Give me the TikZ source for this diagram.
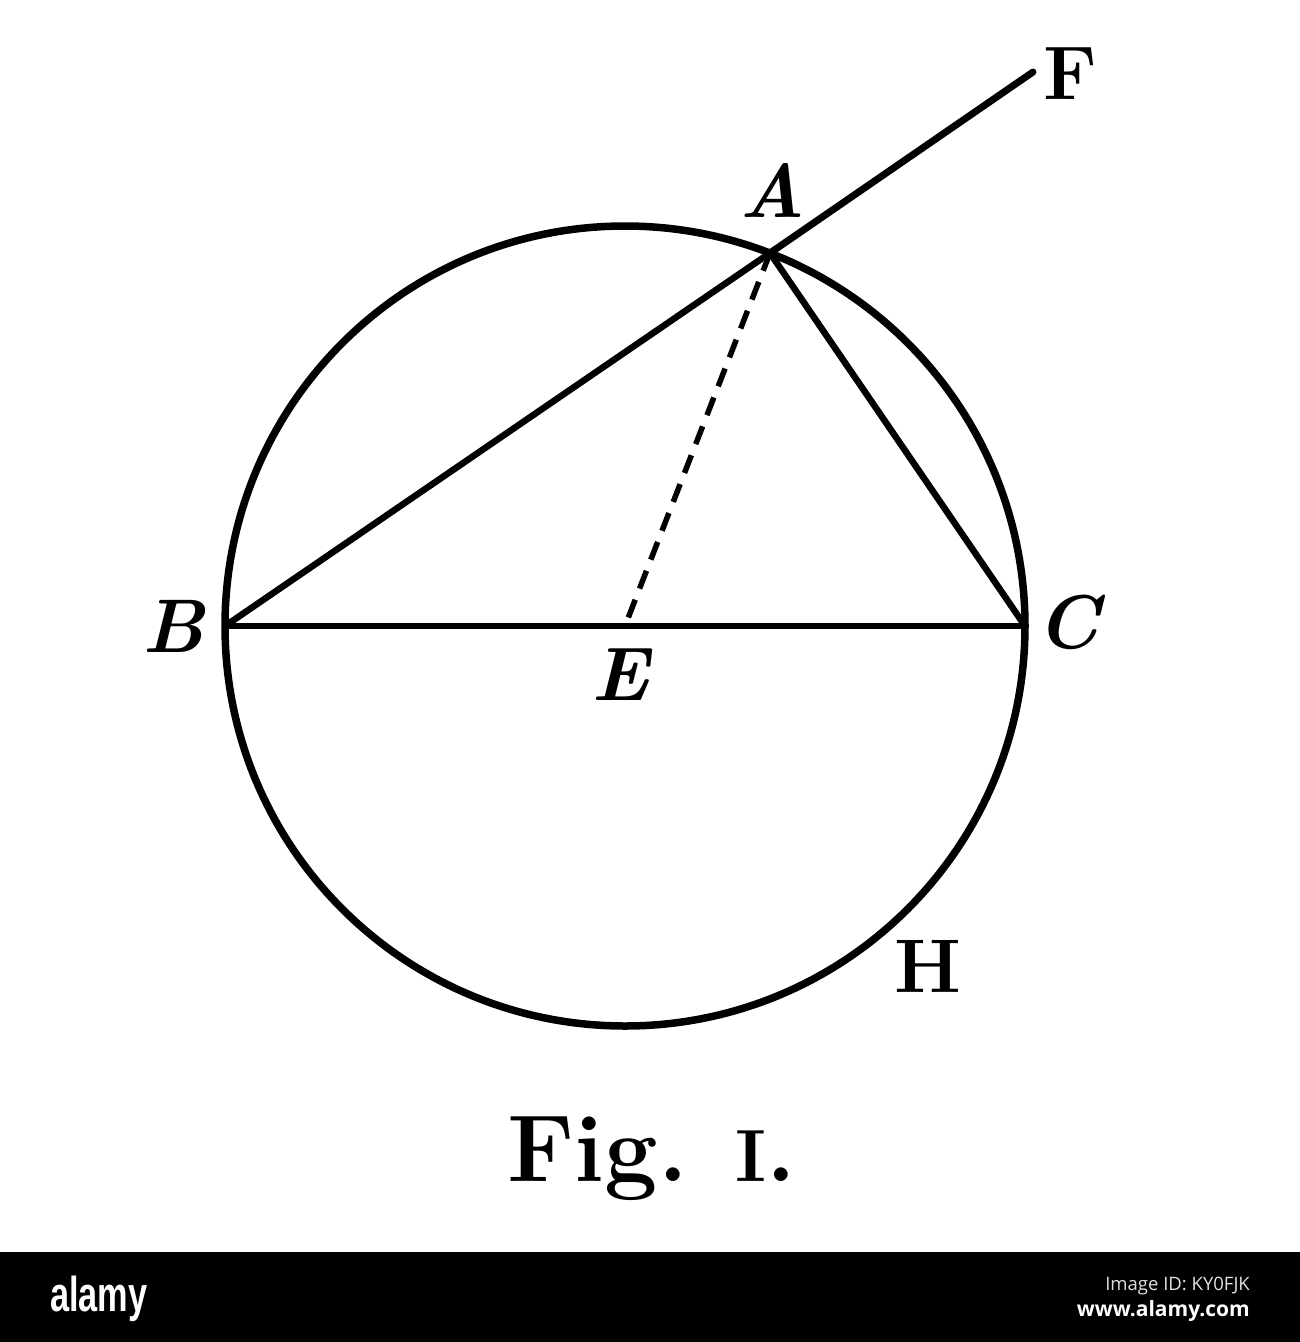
\documentclass[tikz,border=0pt]{standalone}
\usepackage{fontspec}
\newfontfamily\wmsans{Liberation Sans}
\newfontfamily\wmopen{Open Sans}
\begin{document}
\begin{tikzpicture}[x=1pt,y=-1pt,line join=round,line cap=round,
  lblit/.style={font=\fontsize{76}{76}\selectfont\bfseries\itshape,inner sep=0pt},
  lblup/.style={font=\fontsize{76}{76}\selectfont\bfseries,inner sep=0pt},
  rim/.style={line width=7.5pt},
  chord/.style={line width=6.5pt},
  radiusline/.style={line width=5.5pt,dash pattern=on 19pt off 12pt,line cap=butt},
  wm/.style={text=white,inner sep=0pt}]
\useasboundingbox (0,0) rectangle (1300,1342);
\fill[white] (0,0) rectangle (1300,1342);
% points
\coordinate (E) at (625,626);
\coordinate (B) at (225,626);
\coordinate (C) at (1025,626);
\coordinate (A) at (770,253);
\coordinate (F) at (1033,72);
% circle
\draw[rim] (E) circle[radius=400pt];
% lines
\draw[chord] (B) -- (C);
\draw[chord] (B) -- (A) -- (C);
\draw[chord,line width=7pt] (A) -- (F);
\draw[radiusline] (A) -- (E);
% labels
\node[lblup] (lF) at (1070,74) {F};
\node[lblit] (lA) at (772,190) {A};
\node[lblit] (lB) at (174,626) {B};
\node[lblit] (lC) at (1068,622) {C};
\node[lblit] (lE) at (620,675) {E};
\node[lblup] (lH) at (928,966) {H};
\node[inner sep=0pt,font=\fontsize{95}{95}\selectfont\bfseries,anchor=base] (cap) at (652,1181)
  {Fig.\hspace{0.5em}{\fontsize{74}{74}\selectfont I}.};
% watermark bar
\fill[black] (0,1252) rectangle (1300,1342);
\node[wm,anchor=base west] (logo) at (50,1311)
  {\scalebox{0.7}[1]{\wmsans\bfseries\fontsize{49}{49}\selectfont alamy}};
\node[wm,anchor=base east,text=white!88!black] (imgid) at (1250,1290)
  {\wmopen\fontsize{18.5}{18.5}\selectfont Image ID: KY0FJK};
\node[wm,anchor=base east] (www) at (1250,1316)
  {\wmopen\bfseries\fontsize{21}{21}\selectfont www.alamy.com};
\end{tikzpicture}
\end{document}
